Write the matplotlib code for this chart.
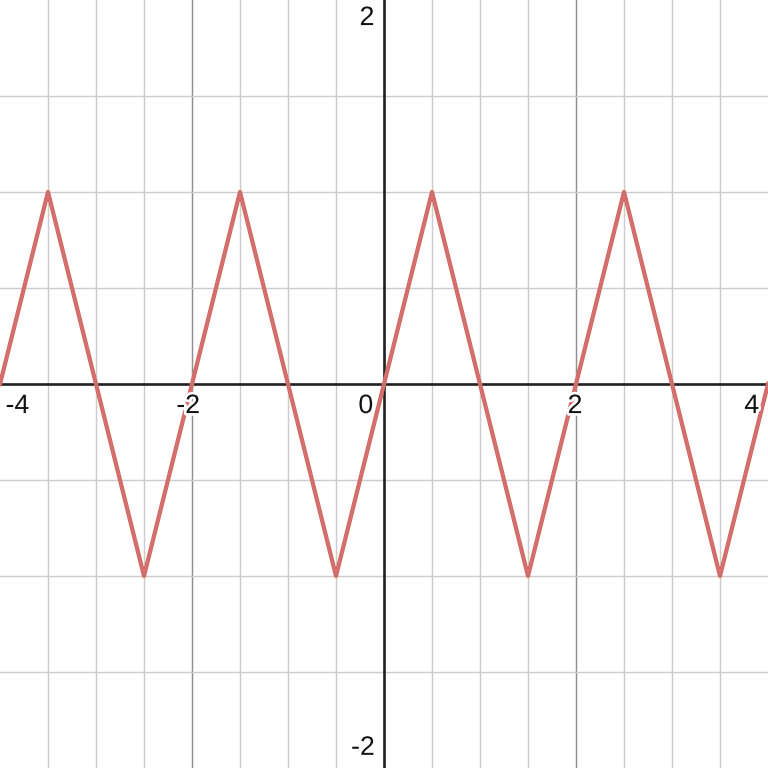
import matplotlib.pyplot as plt
import matplotlib.patheffects as pe
import numpy as np

# triangle wave vertices
wave_x = [-4, -3.5, -2.5, -1.5, -0.5, 0.5, 1.5, 2.5, 3.5, 4]
wave_y = [0, 1, -1, 1, -1, 1, -1, 1, -1, 0]

x_labels = [-4, -2, 0, 2, 4]
y_labels = [2, -2]

plt.rcParams['font.family'] = ['Liberation Sans', 'DejaVu Sans']

fig = plt.figure(figsize=(8, 8), dpi=96)
ax = fig.add_axes([0, 0, 1, 1])
ax.set_xlim(-4, 4)
ax.set_ylim(-2, 2)
ax.axis('off')

# minor grid every 0.5, major at multiples of 2 (skip the edges and axes)
for gx in np.arange(-3.5, 3.51, 0.5):
    if gx == 0:
        continue
    major = abs(gx) % 2 == 0
    ax.axvline(gx, color='#8f8f8f' if major else '#cccccc', lw=1.1, zorder=1)
for gy in np.arange(-1.5, 1.51, 0.5):
    if gy == 0:
        continue
    ax.axhline(gy, color='#cccccc', lw=1.1, zorder=1)

ax.axhline(0, color='#222222', lw=2.0, zorder=2)
ax.axvline(0, color='#222222', lw=2.0, zorder=2)

ax.plot(wave_x, wave_y, color='#d56d6d', lw=3.2, zorder=3, solid_joinstyle='round')

halo = [pe.withStroke(linewidth=4, foreground='white')]
x_pos = {-4: -3.82, -2: -2.04, 0: -0.19, 2: 1.99, 4: 3.83}
for v in x_labels:
    ax.text(x_pos[v], -0.115, str(v), fontsize=20, ha='center', va='center',
            color='#111111', path_effects=halo, zorder=4)
y_pos = {2: (-0.177, 1.906), -2: (-0.22, -1.895)}
for v in y_labels:
    px, py = y_pos[v]
    ax.text(px, py, str(v), fontsize=20, ha='center', va='center',
            color='#111111', path_effects=halo, zorder=4)

fig.savefig('out.png', dpi=96)
